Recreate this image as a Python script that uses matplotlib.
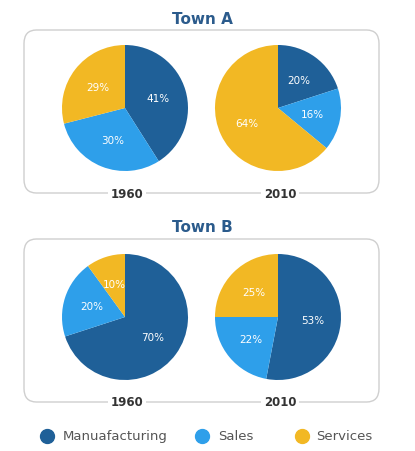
import matplotlib.pyplot as plt
from matplotlib.patches import FancyBboxPatch
from matplotlib.lines import Line2D

# data
categories = ['Manuafacturing', 'Sales', 'Services']
colors = ['#1f6098', '#2e9fea', '#f2b824']
years = ['1960', '2010']
town_a = [[41, 30, 29], [20, 16, 64]]
town_b = [[70, 20, 10], [53, 22, 25]]

W, H = 415, 452
fig = plt.figure(figsize=(W / 100, H / 100), dpi=100)


def px_axes(x0, y0, w, h):
    # pixel box (top-left origin) -> figure axes
    return fig.add_axes([x0 / W, 1 - (y0 + h) / H, w / W, h / H])


def town_panel(title, values, box_top, box_bot, title_y):
    fig.text(202 / W, 1 - title_y / H, title, ha='center', va='center',
             fontsize=11, fontweight='bold', color='#2b5b8c')
    box = FancyBboxPatch((24 / W, 1 - box_bot / H), (379 - 24) / W, (box_bot - box_top) / H,
                         boxstyle='round,pad=0,rounding_size=0.03',
                         transform=fig.transFigure, facecolor='none',
                         edgecolor='#cfcfcf', linewidth=1.0)
    fig.patches.append(box)
    pie_top = box_top + 15
    for cx, vals, yr in zip([125, 278], values, years):
        ax = px_axes(cx - 63, pie_top, 126, 126)
        ax.pie(vals, colors=colors, startangle=90, counterclock=False,
               autopct=lambda p: f'{round(p)}%', pctdistance=0.55,
               textprops=dict(color='white', fontsize=7.5))
        ax.set_xlim(-1, 1)
        ax.set_ylim(-1, 1)
        ax.set_aspect('equal')
        fig.text((cx + 2) / W, 1 - box_bot / H, yr, ha='center', va='center',
                 fontsize=8.5, fontweight='bold', color='#333333',
                 bbox=dict(facecolor='white', edgecolor='none', pad=2))


town_panel('Town A', town_a, 31, 194, 20)
town_panel('Town B', town_b, 240, 403, 228)

# legend
for cat, col, (mx, tx) in zip(categories, colors, [(47, 63), (202, 218), (302, 316)]):
    fig.add_artist(Line2D([mx / W], [1 - 437 / H], transform=fig.transFigure,
                          marker='o', markersize=10, color=col, linestyle='none'))
    fig.text(tx / W, 1 - 437 / H, cat, ha='left', va='center', fontsize=9.5, color='#555555')

plt.savefig('out.png', dpi=100)
